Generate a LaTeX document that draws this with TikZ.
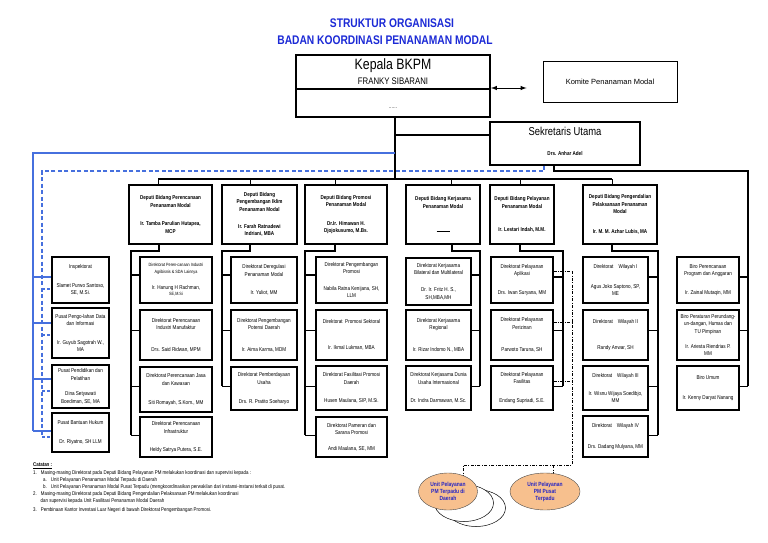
\documentclass[tikz,border=0pt]{standalone}
\usepackage{fontspec}
\setmainfont{Liberation Sans}
\newfontfamily\narrowfont[FakeStretch=0.82]{Liberation Sans}
\usetikzlibrary{shapes.geometric,shadows}

\definecolor{titleblue}{RGB}{28,42,214}
\definecolor{lineblue}{RGB}{70,112,222}
\definecolor{unitfill}{RGB}{247,192,142}
\definecolor{unittext}{RGB}{38,38,196}

\begin{document}
\begin{tikzpicture}[x=1pt,y=-1pt,
  dirbox/.style={draw, line width=1.1pt, fill=white, inner sep=1pt, align=center,
    drop shadow={shadow xshift=0.9pt, shadow yshift=-0.9pt, fill=black!60, opacity=0.7},
    font=\narrowfont\fontsize{5.6}{7.6}\selectfont},
  deputi/.style={dirbox, minimum height=59pt, font=\narrowfont\bfseries\fontsize{5.6}{7.6}\selectfont},
  titletext/.style={text=titleblue, font=\narrowfont\bfseries\fontsize{12.5}{14}\selectfont},
  wire/.style={line width=1pt},
  bline/.style={lineblue, line width=1.5pt},
  bdash/.style={lineblue, line width=1.3pt, dash pattern=on 4pt off 2.5pt},
  unitlink/.style={line width=0.8pt, dash pattern=on 3pt off 1.5pt on 0.8pt off 1.5pt},
  unit/.style={ellipse, draw=black!70, fill=unitfill, inner sep=0pt, align=center,
    text=unittext, font=\narrowfont\bfseries\fontsize{6}{7}\selectfont},
  unitback/.style={ellipse, draw, fill=white, line width=0.5pt, inner sep=0pt}]

  % --- page ---
  \path[use as bounding box, fill=white] (0,0) rectangle (768,543);

  % --- title ---
  \node[titletext] (title1) at (392,23) {STRUKTUR ORGANISASI};
  \node[titletext] (title2) at (385,40) {BADAN KOORDINASI PENANAMAN MODAL};

  % --- Kepala BKPM ---
  \node[draw, line width=2pt, minimum width=194pt, minimum height=62pt] (kepala) at (393,86) {};
  \draw[line width=2pt] (kepala.west |- 0,89) -- (kepala.east |- 0,89);
  \node[font=\narrowfont\fontsize{15}{17}\selectfont] (kepalaT) at (393,66) {Kepala BKPM};
  \node[font=\narrowfont\fontsize{9.5}{11}\selectfont] (kepalaN) at (393,81) {FRANKY SIBARANI};
  \node[font=\fontsize{5}{6}\selectfont] (kepalaD) at (393,108) {......};

  % --- Komite ---
  \node[draw, line width=1pt, minimum width=134pt, minimum height=40pt,
        font=\fontsize{7.5}{8}\selectfont] (komite) at (610,82) {Komite Penanaman Modal};
  \draw[<->, >=latex, line width=1pt, shorten >=16pt] (kepala.east |- 0,88) -- (komite.west |- 0,88);

  % --- Sekretaris Utama ---
  \node[dirbox, minimum width=150pt, minimum height=43pt] (sekretaris) at (565,143.5) {};
  \node[font=\narrowfont\fontsize{11.5}{13}\selectfont] (sekretarisT) at (565,131) {Sekretaris Utama};
  \node[font=\narrowfont\bfseries\fontsize{5.6}{6}\selectfont] (sekretarisN) at (565,153) {Drs. Anhar Adel};

  % --- deputi row ---
  \node[deputi, minimum width=83pt] (d1) at (170.5,214.5)
    {Deputi Bidang Perencanaan\\Penanaman Modal\\[11pt]Ir. Tamba Parulian Hutapea,\\MCP};
  \node[deputi, minimum width=75pt] (d2) at (259.5,214.5)
    {Deputi Bidang\\Pengembangan Iklim\\Penanaman Modal\\[9pt]Ir. Farah Ratnadewi\\Indriani, MBA};
  \node[deputi, minimum width=82pt] (d3) at (346,214.5)
    {Deputi Bidang Promosi\\Penanaman Modal\\[11pt]Dr.Ir. Himawan H.\\Djojokusumo, M.Bs.};
  \node[deputi, minimum width=74pt] (d4) at (443,214.5)
    {Deputi Bidang Kerjasama\\Penanaman Modal\\[16pt]\rule[1pt]{13pt}{0.6pt}};
  \node[deputi, minimum width=64pt] (d5) at (522,214.5)
    {Deputi Bidang Pelayanan\\Penanaman Modal\\[15pt]Ir. Lestari Indah, M.M.};
  \node[deputi, minimum width=74pt] (d6) at (620,214.5)
    {Deputi Bidang Pengendalian\\Pelaksanaan Penanaman\\Modal\\[12pt]Ir. M. M. Azhar Lubis, MA};

  % --- column 1: inspektorat and pusat ---
  \node[dirbox, minimum width=57pt, minimum height=46pt] (c1a) at (80.5,280)
    {Inspektorat\\[11pt]Slamet Purwo Santoso,\\SE, M.Si.};
  \node[dirbox, minimum width=57pt, minimum height=50pt] (c1b) at (80.5,333)
    {Pusat Pengo-lahan Data\\dan Informasi\\[11pt]Ir. Guyub Sagotrah W.,\\MA};
  \node[dirbox, minimum width=57pt, minimum height=43pt] (c1c) at (80.5,386.5)
    {Pusat Pendidikan dan\\Pelatihan\\[8pt]Dina Setyawati\\Boediman, SE, MA};
  \node[dirbox, minimum width=57pt, minimum height=39pt] (c1d) at (80.5,432.5)
    {Pusat Bantuan Hukum\\[12pt]Dr. Riyatno, SH LLM};

  % --- column 2 ---
  \node[dirbox, minimum width=72pt, minimum height=46pt, font=\narrowfont\fontsize{4.6}{6.6}\selectfont] (c2a) at (176,280)
    {Direktorat Peren-canaan Industri\\Agribisnis \& SDA Lainnya\\[9pt]\fontsize{5.6}{7.6}\selectfont Ir. Hanung H Rachman,\\SE,M.Si};
  \node[dirbox, minimum width=72pt, minimum height=50pt] (c2b) at (176,335)
    {Direktorat Perencanaan\\Industri Manufaktur\\[14pt]Drs. Said Ridwan, MPM};
  \node[dirbox, minimum width=72pt, minimum height=45pt] (c2c) at (176,389.5)
    {Direktorat Perencanaan Jasa\\dan Kawasan\\[11pt]Siti Romayah, S.Kom., MM};
  \node[dirbox, minimum width=72pt, minimum height=40pt] (c2d) at (176,437)
    {Direktorat Perencanaan\\Infrastruktur\\[10pt]Heldy Satrya Putera, S.E.};

  % --- column 3 ---
  \node[dirbox, minimum width=66pt, minimum height=46pt] (c3a) at (264,280)
    {Direktorat Deregulasi\\Penanaman Modal\\[11pt]Ir. Yuliot, MM};
  \node[dirbox, minimum width=66pt, minimum height=50pt] (c3b) at (264,335)
    {Direktorat Pengembangan\\Potensi Daerah\\[14pt]Ir. Aima Karma, MDM};
  \node[dirbox, minimum width=66pt, minimum height=43pt] (c3c) at (264,388.5)
    {Direktorat Pemberdayaan\\Usaha\\[11pt]Drs. R. Pratito Soeharyo};

  % --- column 4 ---
  \node[dirbox, minimum width=71pt, minimum height=46pt] (c4a) at (351.5,280)
    {Direktorat Pengembangan\\Promosi\\[9pt]Nabila Ratna Kenijana, SH,\\LLM};
  \node[dirbox, minimum width=71pt, minimum height=50pt] (c4b) at (351.5,335)
    {Direktorat\ \ Promosi Sektoral\\[18pt]Ir. Ikmal Lukman, MBA};
  \node[dirbox, minimum width=71pt, minimum height=44pt] (c4c) at (351.5,388)
    {Direktorat Fasilitasi Promosi\\Daerah\\[11pt]Husen Maulana, SIP, M.Si.};
  \node[dirbox, minimum width=71pt, minimum height=40pt] (c4d) at (351.5,437)
    {Direktorat Pameran dan\\Sarana Promosi\\[8pt]Andi Maulana, SE, MM};

  % --- column 5 ---
  \node[dirbox, minimum width=65pt, minimum height=47pt] (c5a) at (438.5,281.5)
    {Direktorat Kerjasama\\Bilateral dan Multilateral\\[9pt]Dr. Ir. Fritz H. S.,\\SH,MBA,MH};
  \node[dirbox, minimum width=65pt, minimum height=50pt] (c5b) at (438.5,335)
    {Direktorat Kerjasama\\Regional\\[14pt]Ir. Rizar Indomo N., MBA};
  \node[dirbox, minimum width=65pt, minimum height=44pt] (c5c) at (438.5,388)
    {Direktorat Kerjasama Dunia\\Usaha Internasional\\[11pt]Dr. Indra Darmawan, M.Sc.};

  % --- column 6 ---
  \node[dirbox, minimum width=62pt, minimum height=46pt] (c6a) at (522,280)
    {Direktorat Pelayanan\\Aplikasi\\[11pt]Drs. Iwan Suryana, MM};
  \node[dirbox, minimum width=62pt, minimum height=50pt] (c6b) at (522,335)
    {Direktorat Pelayanan\\Perizinan\\[15pt]Parwoto Taruna, SH};
  \node[dirbox, minimum width=62pt, minimum height=44pt] (c6c) at (522,388)
    {Direktorat Pelayanan\\Fasilitas\\[11pt]Endang Supriadi, S.E.};

  % --- column 7 ---
  \node[dirbox, minimum width=65pt, minimum height=46pt] (c7a) at (615.5,280)
    {Direktorat\hspace{5pt}Wilayah I\\[12pt]Agus Joko Saptono, SP,\\ME};
  \node[dirbox, minimum width=65pt, minimum height=50pt] (c7b) at (615.5,335)
    {Direktorat\hspace{5pt}Wilayah II\\[18pt]Randy Anwar, SH};
  \node[dirbox, minimum width=65pt, minimum height=44pt] (c7c) at (615.5,388)
    {Direktorat\hspace{5pt}Wilayah III\\[10pt]Ir. Wisnu Wijaya Soedibjo,\\MM};
  \node[dirbox, minimum width=65pt, minimum height=41pt] (c7d) at (615.5,436.5)
    {Direktorat\hspace{5pt}Wilayah IV\\[14pt]Drs. Dadang Mulyana, MM};

  % --- column 8: biro ---
  \node[dirbox, minimum width=62pt, minimum height=46pt] (c8a) at (708,280)
    {Biro Perencanaan\\Program dan Anggaran\\[11pt]Ir. Zainal Mutaqin, MM};
  \node[dirbox, minimum width=62pt, minimum height=50pt] (c8b) at (708,335)
    {Biro Peraturan Perundang-\\un-dangan, Humas dan\\TU Pimpinan\\[7pt]Ir. Ariesta Riendrias P.\\MM};
  \node[dirbox, minimum width=62pt, minimum height=44pt] (c8c) at (708,388)
    {Biro Umum\\[13pt]Ir. Kenny Daryat Nanang};

  % --- trunk, sekretaris and deputi bus ---
  \draw[line width=1.6pt] (kepala.south -| 395,0) -- (395,179);
  \draw[line width=1.4pt] (395,135) -- (sekretaris.west |- 0,135);
  \draw[line width=1.6pt] (158,179) -- (612,179);
  \foreach \n/\xx in {d1/158,d2/250,d3/335,d4/451,d5/520,d6/612}
    \draw[wire] (\xx,179) -- (\n.north -| \xx,0);

  % --- deputi to their direktorat ---
  \draw[line width=1.3pt] (d1.south -| 159,0) |- (131,251) -- (131,435);
  \draw[line width=1.3pt] (d2.south -| 250,0) |- (222,251) -- (222,386);
  \draw[line width=1.3pt] (d3.south -| 335,0) |- (305,251) -- (305,435);
  \draw[line width=1.3pt] (d4.south -| 452,0) |- (480,251) -- (480,386);
  \draw[line width=1.3pt] (d5.south -| 520,0) |- (563,251) -- (563,386);
  \draw[line width=1.3pt] (d6.south -| 612,0) |- (658,251) -- (658,435);
  \draw[line width=1.4pt] (sekretaris.south -| 554,0) |- (748,171) -- (748,386);

  % --- branches (bus on the left) ---
  \foreach \bx/\n/\yy/\w in {131/c2a/275/2pt,131/c2b/330/1pt,131/c2c/386/1pt,131/c2d/435/1pt,
                             222/c3a/275/2pt,222/c3b/330/1pt,222/c3c/386/1pt,
                             305/c4a/275/2pt,305/c4b/330/1pt,305/c4c/386/1pt,305/c4d/435/1pt}
    \draw[line width=\w] (\bx,\yy) -- (\n.west |- 0,\yy);

  % --- branches (bus on the right) ---
  \foreach \bx/\n/\yy/\w in {480/c5a/275/2pt,480/c5b/330/1pt,480/c5c/386/1pt,
                             563/c6a/277/2pt,563/c6b/330/1pt,563/c6c/386/1pt,
                             658/c7a/277/2pt,658/c7b/330/1pt,658/c7c/386/1pt,658/c7d/435/1pt,
                             748/c8a/277/2pt,748/c8b/330/1pt,748/c8c/386/1pt}
    \draw[line width=\w] (\bx,\yy) -- (\n.east |- 0,\yy);

  % --- blue lines to column 1 ---
  \draw[bline] (395,153) -| (33,431);
  \foreach \n/\yy in {c1a/277,c1b/323,c1c/379,c1d/431}
    \draw[bline, line width=2pt] (33,\yy) -- (\n.west |- 0,\yy);
  \draw[bdash] (sekretaris.south -| 544,0) |- (42,171) -- (42,437);
  \foreach \n/\yy in {c1a/289,c1b/335,c1c/391,c1d/437}
    \draw[bdash, dash pattern=on 3pt off 2pt] (42,\yy) -- (\n.west |- 0,\yy);

  % --- pelayanan units ---
  \coordinate (u1c) at (448,491.5);
  \coordinate (u2c) at (545,491.5);
  \foreach \n/\yy in {c6a/271,c6b/322,c6c/381}
    \draw[unitlink] (\n.east |- 0,\yy) -- (572,\yy);
  \draw[unitlink] (572,271) -- (572,465) -- (463,465) -- (u1c -| 463,0);
  \draw[unitlink] (553,465) -- (u2c -| 553,0);
  \node[unitback, minimum width=59pt, minimum height=37pt] (u1s2) at (476,508) {};
  \node[unitback, minimum width=59pt, minimum height=37pt] (u1s1) at (464,503) {};
  \node[unit, minimum width=59pt, minimum height=37pt] (u1) at (u1c) {Unit Pelayanan\\PM Terpadu di\\Daerah};
  \node[unit, minimum width=70pt, minimum height=37pt] (u2) at (u2c) {Unit Pelayanan\\PM Pusat\\Terpadu};

  % --- notes ---
  \node[anchor=north west, align=left, inner sep=0pt, font=\narrowfont\fontsize{5.4}{7.2}\selectfont] (notes) at (33,463)
    {\underline{\textbf{Catatan :}}\\
     1.\hspace*{4pt}Masing-masing Direktorat pada Deputi Bidang Pelayanan PM melakukan koordinasi dan supervisi kepada :\\
     \hspace*{10pt}a.\hspace*{4pt}Unit Pelayanan Penanaman Modal Terpadu di Daerah\\
     \hspace*{10pt}b.\hspace*{4pt}Unit Pelayanan Penanaman Modal Pusat Terpadu (mengkoordinasikan perwakilan dari instansi-instansi terkait di pusat.\\
     2.\hspace*{4pt}Masing-masing Direktorat pada Deputi Bidang Pengendalian Pelaksanaan PM melakukan koordinasi\\
     \hspace*{7.5pt}dan supervisi kepada Unit Fasilitasi Penanaman Modal Daerah\\[1.5pt]
     3.\hspace*{4pt}Pembinaan Kantor Investasi Luar Negeri di bawah Direktorat Pengembangan Promosi.};
\end{tikzpicture}
\end{document}
